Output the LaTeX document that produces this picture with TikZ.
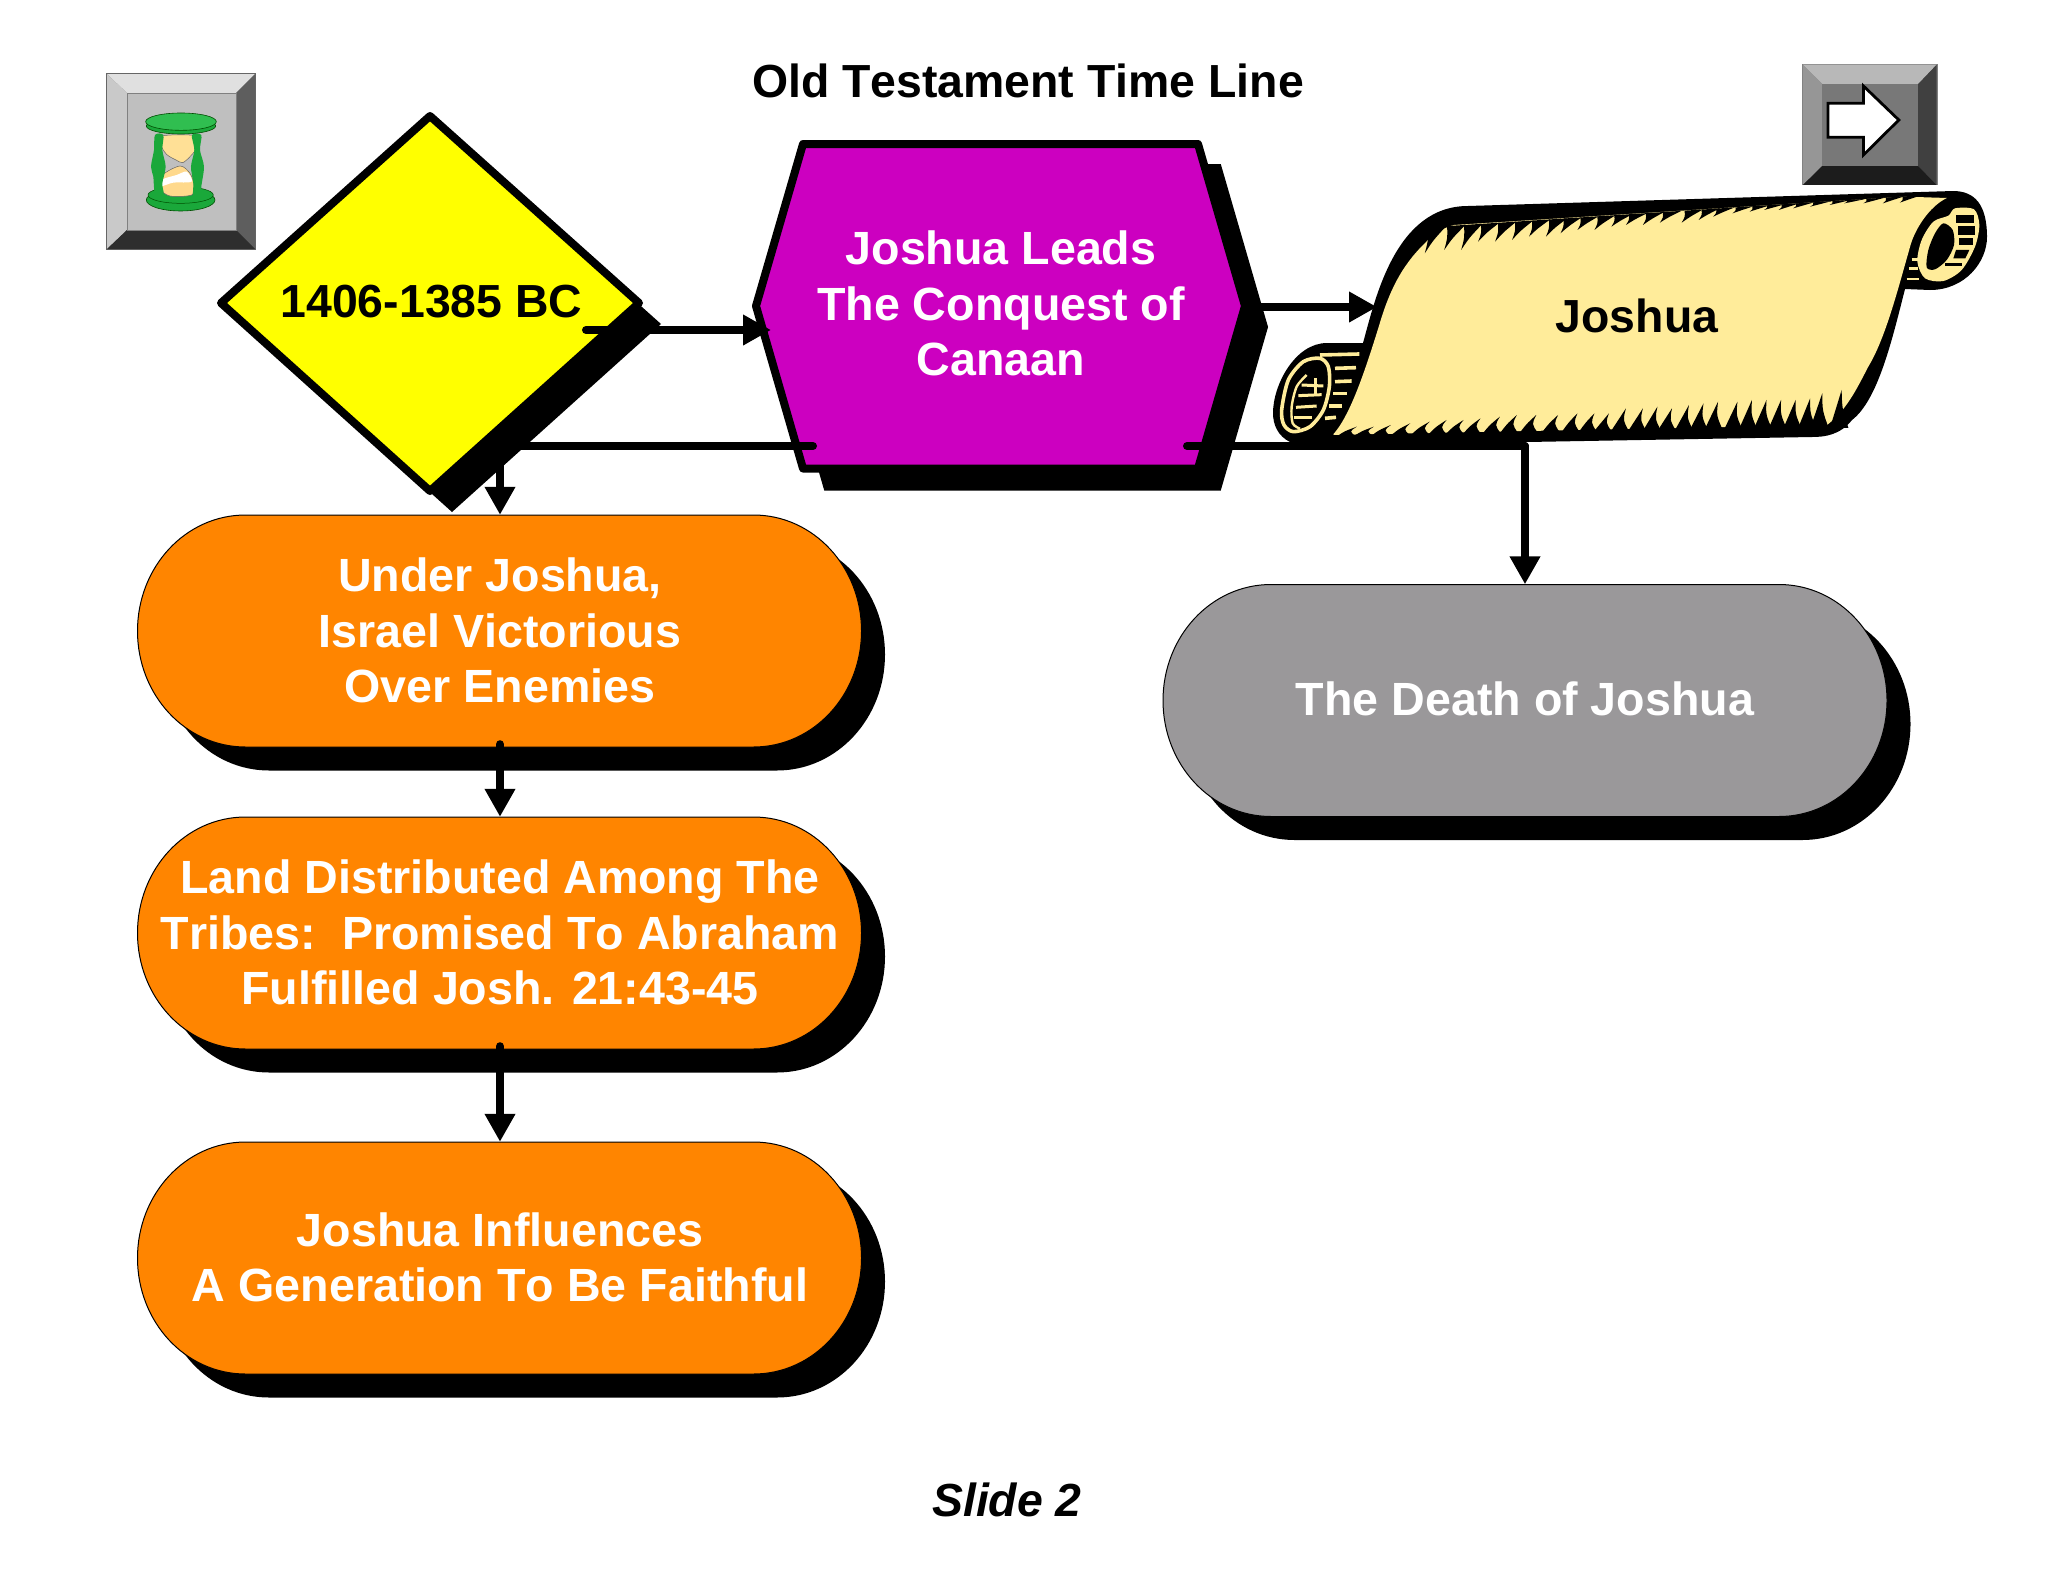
\documentclass[tikz,border=0pt]{standalone}
\usepackage{fontspec}
\setmainfont[Kerning=Off]{Liberation Sans}
\usetikzlibrary{arrows.meta}
\definecolor{orangeP}{RGB}{255,133,0}
\definecolor{grayP}{RGB}{154,152,154}
\definecolor{purpleH}{RGB}{204,0,192}
\definecolor{scrollY}{RGB}{255,236,154}
\definecolor{diamondY}{RGB}{255,255,0}
\definecolor{hgreen}{RGB}{26,168,58}
\definecolor{hgreenL}{RGB}{48,190,80}
\definecolor{sandA}{RGB}{255,224,150}
\definecolor{sandB}{RGB}{255,217,140}
\tikzset{
  pillbase/.style={inner sep=0pt,minimum width=724pt,minimum height=232pt,align=center,text=white,
    font=\fontsize{46.6}{55.6}\selectfont\bfseries},
  strutmulti/.style={execute at begin node={\rule{0pt}{44pt}},execute at end node={\rule[-8pt]{0pt}{8pt}}},
  strutsingle/.style={execute at begin node={\rule{0pt}{39pt}},execute at end node={\rule[-9pt]{0pt}{9pt}}},
  plain/.style={inner sep=0pt,align=center,font=\fontsize{46.4}{56}\selectfont\bfseries},
  conn/.style={line width=8pt,line cap=round,draw=black},
  arr/.style={conn,-{Triangle[length=28pt,width=29pt]}},
  yb/.style={draw=scrollY,line width=3.6pt},
  bb/.style={fill=black}
}
\newcommand{\pillshape}[3]{%
  \fill[black,shift={(#1+23.5,#2+23.5)}] (-254,-116) -- (254,-116) .. controls (314,-116) and (362,-64) .. (362,0) .. controls (362,64) and (314,116) .. (254,116) -- (-254,116) .. controls (-314,116) and (-362,64) .. (-362,0) .. controls (-362,-64) and (-314,-116) .. (-254,-116) -- cycle;
  \draw[black,line width=1pt,fill=#3,shift={(#1,#2)}] (-254,-116) -- (254,-116) .. controls (314,-116) and (362,-64) .. (362,0) .. controls (362,64) and (314,116) .. (254,116) -- (-254,116) .. controls (-314,116) and (-362,64) .. (-362,0) .. controls (-362,-64) and (-314,-116) .. (-254,-116) -- cycle;
}
\begin{document}
\begin{tikzpicture}[x=1pt,y=-1pt]
\useasboundingbox (0,0) rectangle (2048,1582);
\fill[white] (0,0) rectangle (2048,1582);

% hourglass button
\fill[gray!80!black] (106,73) rectangle (256,249.5);
\fill[black!12] (107,74) -- (255,74) -- (236,93) -- (127,93) -- cycle;
\fill[black!21] (107,74) -- (127,93) -- (127,230) -- (107,249) -- cycle;
\fill[black!63] (255,74) -- (255,249) -- (236,230) -- (236,93) -- cycle;
\fill[black!82] (107,249) -- (127,230) -- (236,230) -- (255,249) -- cycle;
\draw[fill=black!25,draw=black!50,line width=.8pt] (127,93) rectangle (236,230);
\begin{scope}[shift={(90,60)},x=.3333pt,y=-.3333pt]
  \draw[fill=hgreen,draw=black!70!green,line width=.6pt] (272,420) ellipse [x radius=103,y radius=33];
  \draw[fill=hgreen,draw=black!70!green,line width=.5pt] (272,405) ellipse [x radius=98,y radius=25];
  \draw[fill=sandA,draw=black!60,line width=.5pt] plot[smooth cycle] coordinates {(216,228)(325,228)(322,262)(300,290)(278,308)(258,300)(232,285)(216,262)};
  \draw[fill=sandB,draw=black!60,line width=.5pt] plot[smooth cycle] coordinates {(270,318)(300,340)(312,375)(305,405)(240,408)(210,385)(218,345)};
  \fill[white] plot[smooth cycle] coordinates {(218,358)(260,345)(290,335)(305,365)(250,368)(215,378)};
  \fill[hgreen] plot[smooth cycle] coordinates {(195,225)(220,225)(217,270)(227,320)(217,370)(220,400)(195,400)(190,350)(183,320)(192,270)};
  \fill[hgreen] plot[smooth cycle] coordinates {(306,225)(334,225)(330,270)(342,320)(334,380)(334,410)(310,410)(310,370)(303,320)(313,270)};
  \draw[fill=hgreen,draw=black!70!green,line width=.6pt] (273,198) ellipse [x radius=104,y radius=24];
  \draw[fill=hgreenL,draw=black!70!green,line width=.6pt] (273,185) ellipse [x radius=106,y radius=26];
\end{scope}

% next button
\begin{scope}[shift={(1260,40)},x=.4847pt,y=-.3333pt]
  \fill[black!50] (1118,73) rectangle (1398,436);
  \fill[black!28] (1120,74) -- (1396,74) -- (1358,132) -- (1160,132) -- cycle;
  \fill[black!41] (1120,74) -- (1160,132) -- (1160,378) -- (1120,435) -- cycle;
  \fill[black!75] (1396,74) -- (1396,435) -- (1358,378) -- (1358,132) -- cycle;
  \fill[black!89] (1120,435) -- (1160,378) -- (1358,378) -- (1396,435) -- cycle;
  \fill[black!53] (1160,132) rectangle (1358,378);
  \draw[fill=white,draw=black,line width=2.8pt] (1172,190) -- (1245,190) -- (1245,138) -- (1318,240) -- (1245,345) -- (1245,292) -- (1172,292) -- cycle;
\end{scope}

% title
\node[plain,anchor=base] (title) at (1028,97) {Old Testament Time Line};

% diamond
\fill[black,shift={(22,21)},line join=round] (221,303) -- (430,116) -- (639,303) -- (430,491) -- cycle;
\draw[line width=8pt,line join=round,fill=diamondY] (221,303) -- (430,116) -- (639,303) -- (430,491) -- cycle;
\node[plain,anchor=base] (date) at (431.5,317) {1406-1385 BC};

% hexagon
\filldraw[black,shift={(22,21)},line width=2pt] (803,144) -- (1198,144) -- (1245,306) -- (1198,468.5) -- (803,468.5) -- (756,306) -- cycle;
\draw[line width=8pt,line join=round,fill=purpleH] (803,144) -- (1198,144) -- (1245,306) -- (1198,468.5) -- (803,468.5) -- (756,306) -- cycle;
\node[plain,strutmulti,text=white,anchor=center,font=\fontsize{46.6}{55.6}\selectfont\bfseries] (conquest) at (1001,307.3) {Joshua Leads\\The Conquest of\\Canaan};

% scroll
\fill[black] (1468,206) -- (1953,191) .. controls (1975,191) and (1987,205) .. (1987,237) .. controls (1987,262) and (1965,290) .. (1930,290) -- (1905,289) .. controls (1892,340) and (1878,400) .. (1852,420) .. controls (1840,435) and (1825,437) .. (1812,437) -- (1527,442) -- (1290,442) .. controls (1278,436) and (1273,425) .. (1273,413) .. controls (1273,385) and (1295,343) .. (1327,343) -- (1363,343) .. controls (1375,300) and (1395,206) .. (1468,206) -- cycle;
\begin{scope}[shift={(1260,40)},x=.4847pt,y=-.3333pt]
  \fill[scrollY] (150,1185) .. controls (185,1130) and (215,1000) .. (245,860) .. controls (265,760) and (290,680) .. (340,610) .. controls (355,585) and (375,565) .. (400,555) -- (1330,470) -- (1417,474) .. controls (1380,500) and (1350,570) .. (1341,621) -- (1320,729) .. controls (1300,830) and (1280,920) .. (1255,980) .. controls (1230,1050) and (1210,1110) .. (1170,1155) -- cycle;
  \foreach \tx/\ty in {340/640,380/630,415/630,450/605,485/605,520/600,555/590,590/590,620/580,655/570,690/570,725/560,755/555,790/555,825/548,870/548,905/540,935/530,975/520,1010/515,1040/510,1070/510,1100/505,1135/500,1175/495,1205/490,1245/490,1285/490,1320/488}
    \fill[black] ({\tx+6},{557-(\tx+6-400)*0.0944}) .. controls ({\tx+7},{(\ty+557-(\tx-400)*0.0944)/2}) .. (\tx,\ty) .. controls ({\tx+17},{(\ty+557-(\tx-400)*0.0944)/2}) .. ({\tx+44},{557-(\tx+44-400)*0.0944}) -- cycle;
  \foreach \tx/\ty in {160/1160,200/1160,235/1160,270/1155,310/1150,350/1145,385/1140,420/1140,455/1135,495/1130,530/1125,570/1125,615/1125,655/1120,690/1120,720/1120,755/1105,790/1105,820/1100,850/1105,885/1095,915/1090,945/1085,985/1085,1015/1080,1045/1080,1075/1080,1105/1080,1135/1075,1160/1060,1200/1050}
    \fill[black] ({\tx-24-20*(1-\tx/1200)},{1190-(\tx-150)*0.025}) .. controls ({\tx-10-20*(1-\tx/1200)},{(\ty+1190-(\tx-150)*0.025)/2}) .. (\tx,\ty) .. controls ({\tx+1-20*(1-\tx/1200)},{(\ty+1190-(\tx-150)*0.025)/2}) .. ({\tx+14-20*(1-\tx/1200)},{1190-(\tx-150)*0.025}) -- cycle;
\end{scope}
% left roll
\begin{scope}[shift={(1270,330)},x=.3333pt,y=-.3333pt]
  \draw[yb] (150,75) -- (268,72);
  \draw[yb] (195,115) -- (258,113);
  \draw[yb] (195,155) -- (245,153);
  \draw[yb] (190,190) -- (232,190);
  \draw[yb] (178,228) -- (215,228);
  \draw[yb] (165,265) -- (198,262);
  \draw[yb] plot[smooth cycle] coordinates {(35,240)(55,150)(100,95)(150,85)(175,110)(178,170)(160,240)(120,290)(70,305)(42,285)};
  \draw[draw=scrollY,line width=2.4pt] plot[smooth] coordinates {(110,135)(80,170)(65,230)(68,280)(90,296)};
  \draw[draw=scrollY,line width=3pt] (78,232) -- (140,228);
  \draw[draw=scrollY,line width=3pt] (72,262) -- (125,262);
  \draw[draw=scrollY,line width=3pt] (95,165) -- (160,168);
  \draw[draw=scrollY,line width=3pt] (85,197) -- (155,194);
  \draw[draw=scrollY,line width=3pt] (135,145) -- (135,195);
\end{scope}
% right curl
\begin{scope}[shift={(1880,180)},x=.3333pt,y=-.3333pt]
  \fill[scrollY] plot[smooth cycle] coordinates {(225,85)(282,88)(298,135)(285,200)(245,270)(190,303)(135,295)(112,245)(125,180)(160,125)(205,107)};
  \fill[black] plot[smooth cycle] coordinates {(190,130)(218,150)(222,195)(200,240)(165,268)(140,262)(145,210)(165,160)};
  \fill[bb] (228,105) rectangle (282,128);
  \fill[bb] (233,138) rectangle (284,165);
  \fill[bb] (238,175) rectangle (280,195);
  \fill[bb] (228,210) -- (268,210) -- (256,235) -- (220,235) -- cycle;
  \fill[bb] (195,250) rectangle (245,258);
  \draw[draw=scrollY,line width=2.6pt] (95,238) -- (115,238);
  \draw[draw=scrollY,line width=2.6pt] (88,265) -- (115,265);
  \draw[draw=scrollY,line width=2.6pt] (80,297) -- (118,297);
\end{scope}
\node[plain,anchor=base] (scrolltext) at (1637,332) {Joshua};

% pills
\pillshape{499.5}{631}{orangeP}
\node[pillbase,strutmulti,yshift=-3.3pt] (p1) at (500,631) {Under Joshua,\\Israel Victorious\\Over Enemies};
\pillshape{499.5}{933}{orangeP}
\node[pillbase,strutmulti,yshift=-3.3pt] (p2) at (500,933) {Land Distributed Among The\\Tribes:\ \ Promised To Abraham\\Fulfilled Josh. 21:43-45};
\pillshape{499.5}{1258}{orangeP}
\node[pillbase,strutmulti,yshift=-3.3pt] (p3) at (500,1258) {Joshua Influences\\A Generation To Be Faithful};
\pillshape{1525}{700.5}{grayP}
\node[pillbase,strutsingle] (death) at (1525,700.5) {The Death of Joshua};

% connectors
\coordinate (dOut) at (586,330);
\coordinate (hexIn) at (771,330);
\coordinate (hexOut) at (1258,307);
\coordinate (scrollIn) at (1377,307);
\coordinate (dDown) at (500,455);
\coordinate (busA) at (505,446);
\coordinate (busB) at (813,446);
\coordinate (busC) at (1187,446);
\coordinate (busD) at (1525,446);
\draw[arr] (dOut) -- (hexIn);
\draw[arr] (hexOut) -- (scrollIn);
\draw[arr] (dDown) -- ([yshift=3.3pt]p1.north);
\draw[conn] (busA) -- (busB);
\draw[conn] (busC) -- (busD);
\draw[arr] (busD) -- (death.north);
\draw[arr] ([yshift=6.3pt]p1.south) -- ([yshift=3.3pt]p2.north);
\draw[arr] ([yshift=6.3pt]p2.south) -- ([yshift=3.3pt]p3.north);

% footer
\node[plain,anchor=base,font=\fontsize{46.4}{56}\selectfont\bfseries\itshape] (slide) at (1007,1516) {Slide 2};
\end{tikzpicture}
\end{document}
